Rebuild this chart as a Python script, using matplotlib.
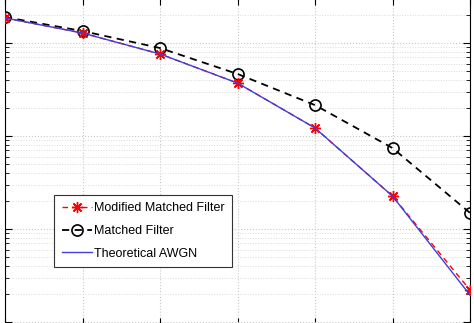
import matplotlib
matplotlib.use("Agg")
import matplotlib.pyplot as plt
import numpy as np
from matplotlib.ticker import LogLocator, NullFormatter

snr_db = [0, 1, 2, 3, 4, 5, 6]
ber_modified = [0.186, 0.128, 0.0762, 0.0371, 0.0122, 0.00226, 0.000221]
ber_matched = [0.19, 0.1345, 0.0883, 0.0465, 0.0215, 0.00743, 0.00149]
ber_theory = [0.186, 0.128, 0.0762, 0.0371, 0.0122, 0.00226, 0.000195]

fig = plt.figure(figsize=(4.74, 3.23), dpi=100)
ax = fig.add_axes([5/474, -2/323, 465/474, 327/323])

ax.semilogy(snr_db, ber_modified, linestyle=(0, (4, 3)), color='red', marker=(8, 2, 0),
            markersize=8, markeredgewidth=1.0,
            linewidth=1.0, label='Modified Matched Filter', zorder=3)
ax.semilogy(snr_db, ber_matched, linestyle=(0, (4, 3)), color='black', marker='o', markersize=8,
            markerfacecolor='none', markeredgewidth=1.2, linewidth=1.3,
            label='Matched Filter', zorder=2)
ax.semilogy(snr_db, ber_theory, '-', color='#3f3fdf', linewidth=1.0,
            label='Theoretical AWGN', zorder=4)

ax.set_xlim(0, 6)
ax.set_ylim(10**-4.032, 10**-0.516)
ax.set_xticks(snr_db)
ax.yaxis.set_major_locator(LogLocator(base=10, numticks=10))
ax.yaxis.set_minor_locator(LogLocator(base=10, subs=np.arange(2, 10), numticks=100))
ax.yaxis.set_minor_formatter(NullFormatter())
ax.tick_params(which='both', direction='in', top=True, right=True,
               labelbottom=False, labelleft=False)
ax.tick_params(which='major', length=5, width=0.8)
ax.tick_params(which='minor', length=3, width=0.6)
ax.grid(True, which='major', linestyle=':', color='#c8c8c8', linewidth=0.8)
ax.grid(True, which='minor', linestyle=':', color='#dcdcdc', linewidth=0.7)
for s in ax.spines.values():
    s.set_linewidth(0.8)

leg = ax.legend(loc='lower left', bbox_to_anchor=(0.106, 0.177),
                prop={'family': 'Liberation Sans', 'size': 9.0},
                fancybox=False, edgecolor='#333333', framealpha=1,
                handlelength=2.4, borderpad=0.6, labelspacing=0.85,
                handletextpad=0.2, borderaxespad=0)
leg.get_frame().set_linewidth(0.8)

fig.savefig('out.png', dpi=100)
